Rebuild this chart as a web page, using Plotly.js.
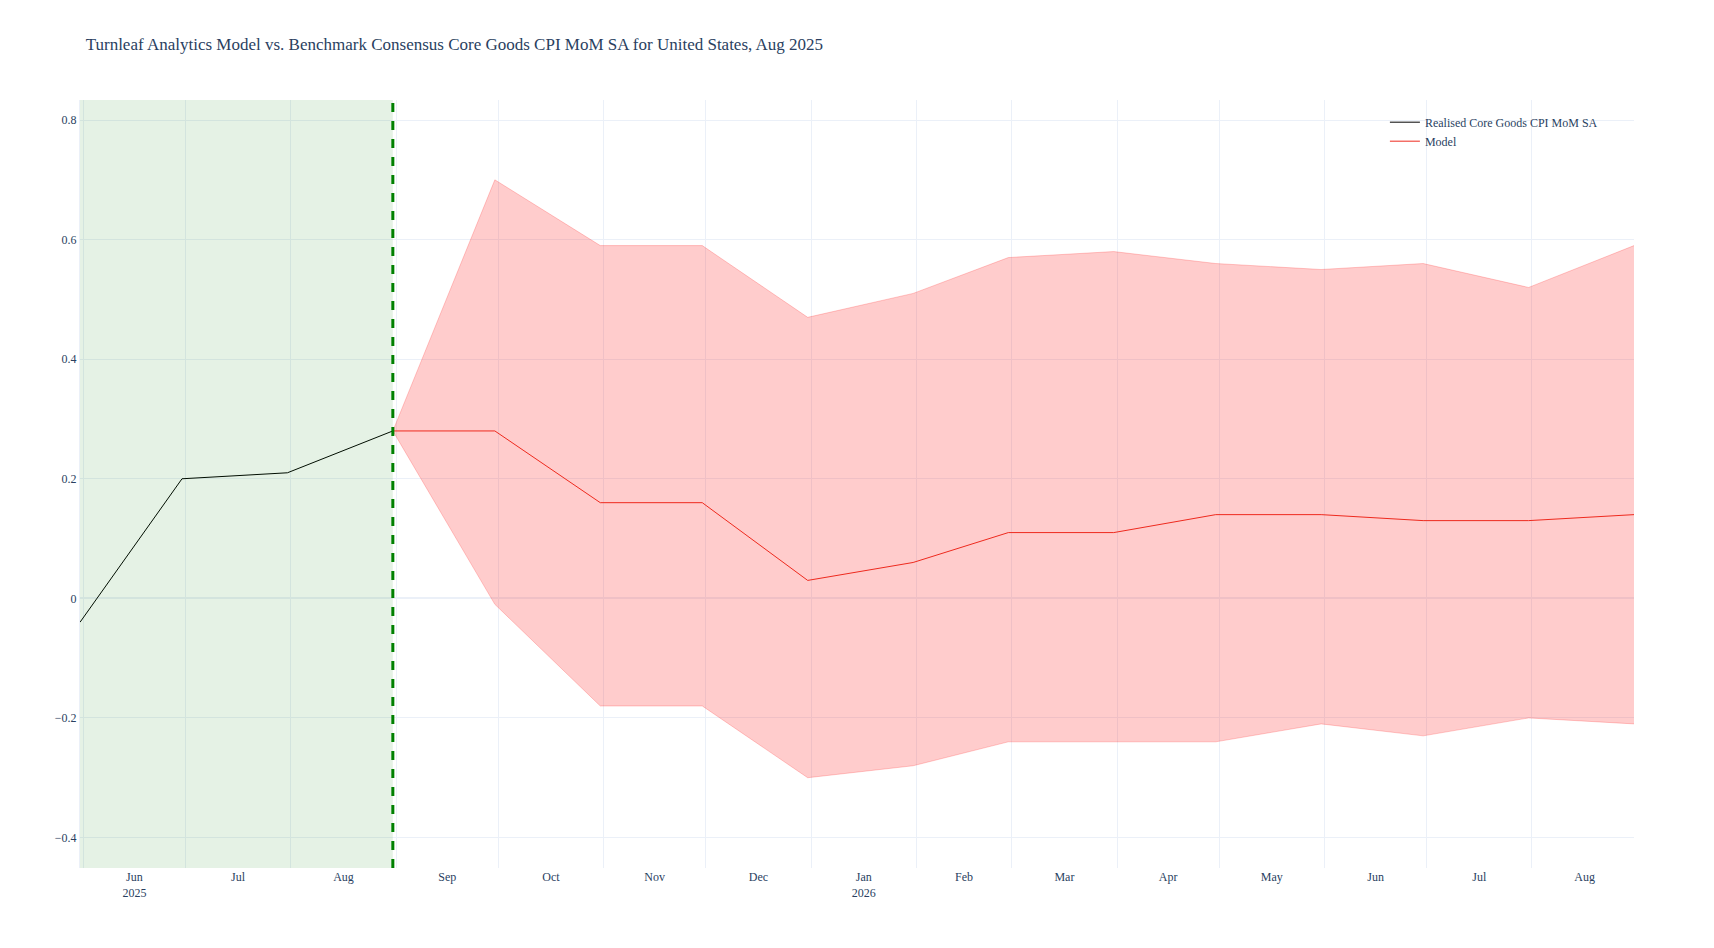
<!DOCTYPE html>
<html>
<head>
<meta charset="utf-8">
<script src="https://cdn.plot.ly/plotly-3.0.1.min.js"></script>
<style>html,body{margin:0;padding:0;background:#fff;}#chart{width:1714px;height:948px;}</style>
</head>
<body>
<div id="chart"></div>
<script>
// Realised data (month-end dates)
const realisedDates = ["2025-05-31", "2025-06-30", "2025-07-31", "2025-08-31"];
const realisedValues = [-0.04, 0.20, 0.21, 0.28];

// Model forecast
const modelDates = ["2025-08-31", "2025-09-30", "2025-10-31", "2025-11-30", "2025-12-31",
  "2026-01-31", "2026-02-28", "2026-03-31", "2026-04-30", "2026-05-31",
  "2026-06-30", "2026-07-31", "2026-08-31"];
const modelValues = [0.28, 0.28, 0.16, 0.16, 0.03, 0.06, 0.11, 0.11, 0.14, 0.14, 0.13, 0.13, 0.14];
const modelUpper  = [0.28, 0.70, 0.59, 0.59, 0.47, 0.51, 0.57, 0.58, 0.56, 0.55, 0.56, 0.52, 0.59];
const modelLower  = [0.28, -0.01, -0.18, -0.18, -0.30, -0.28, -0.24, -0.24, -0.24, -0.21, -0.23, -0.20, -0.21];

const historyStart = "2025-05-31";
const forecastStart = "2025-08-31";
const yRange = [-0.451, 0.8335];

const FONT = "Times New Roman, Liberation Serif, serif";

const traces = [
  {x: modelDates, y: modelUpper, type: "scatter", mode: "lines",
   line: {color: "rgba(255,0,0,0.2)", width: 1}, showlegend: false, hoverinfo: "skip"},
  {x: modelDates, y: modelLower, type: "scatter", mode: "lines", fill: "tonexty",
   fillcolor: "rgba(255,0,0,0.2)", line: {color: "rgba(255,0,0,0.2)", width: 1},
   showlegend: false, hoverinfo: "skip"},
  {x: realisedDates, y: realisedValues, type: "scatter", mode: "lines",
   name: "Realised Core Goods CPI MoM SA", line: {color: "black", width: 1}},
  {x: modelDates, y: modelValues, type: "scatter", mode: "lines",
   name: "Model", line: {color: "#ee2a1e", width: 1}}
];

const layout = {
  width: 1714, height: 948,
  margin: {l: 80, r: 80, t: 100, b: 80},
  paper_bgcolor: "white", plot_bgcolor: "white",
  font: {family: FONT, color: "#2a3f5f", size: 12},
  title: {text: "Turnleaf Analytics Model vs. Benchmark Consensus Core Goods CPI MoM SA for United States, Aug 2025",
          font: {family: FONT, size: 17, color: "#2a3f5f"}, x: 0.05, xanchor: "left"},
  xaxis: {type: "date", gridcolor: "#EBF0F8", linecolor: "#EBF0F8", zerolinecolor: "#EBF0F8",
          ticklabelmode: "period", dtick: "M1", tickformat: "%b\n%Y", showline: false,
          range: [historyStart, "2026-08-31"], tickfont: {family: FONT, size: 12}},
  yaxis: {gridcolor: "#EBF0F8", linecolor: "#EBF0F8", zerolinecolor: "#EBF0F8", zerolinewidth: 2,
          range: yRange, dtick: 0.2, tickfont: {family: FONT, size: 12}},
  legend: {x: 0.98, y: 0.99, xanchor: "right", yanchor: "top", bgcolor: "rgba(0,0,0,0)",
           traceorder: "normal", font: {family: FONT, size: 12}},
  shapes: [
    {type: "rect", xref: "x", yref: "paper", x0: historyStart, x1: forecastStart, y0: 0, y1: 1,
     fillcolor: "green", opacity: 0.1, line: {width: 0}},
    {type: "line", xref: "x", yref: "paper", x0: forecastStart, x1: forecastStart, y0: 0, y1: 1,
     line: {color: "green", width: 3, dash: "dash"}}
  ]
};

Plotly.newPlot("chart", traces, layout, {displayModeBar: false});
</script>
</body>
</html>
